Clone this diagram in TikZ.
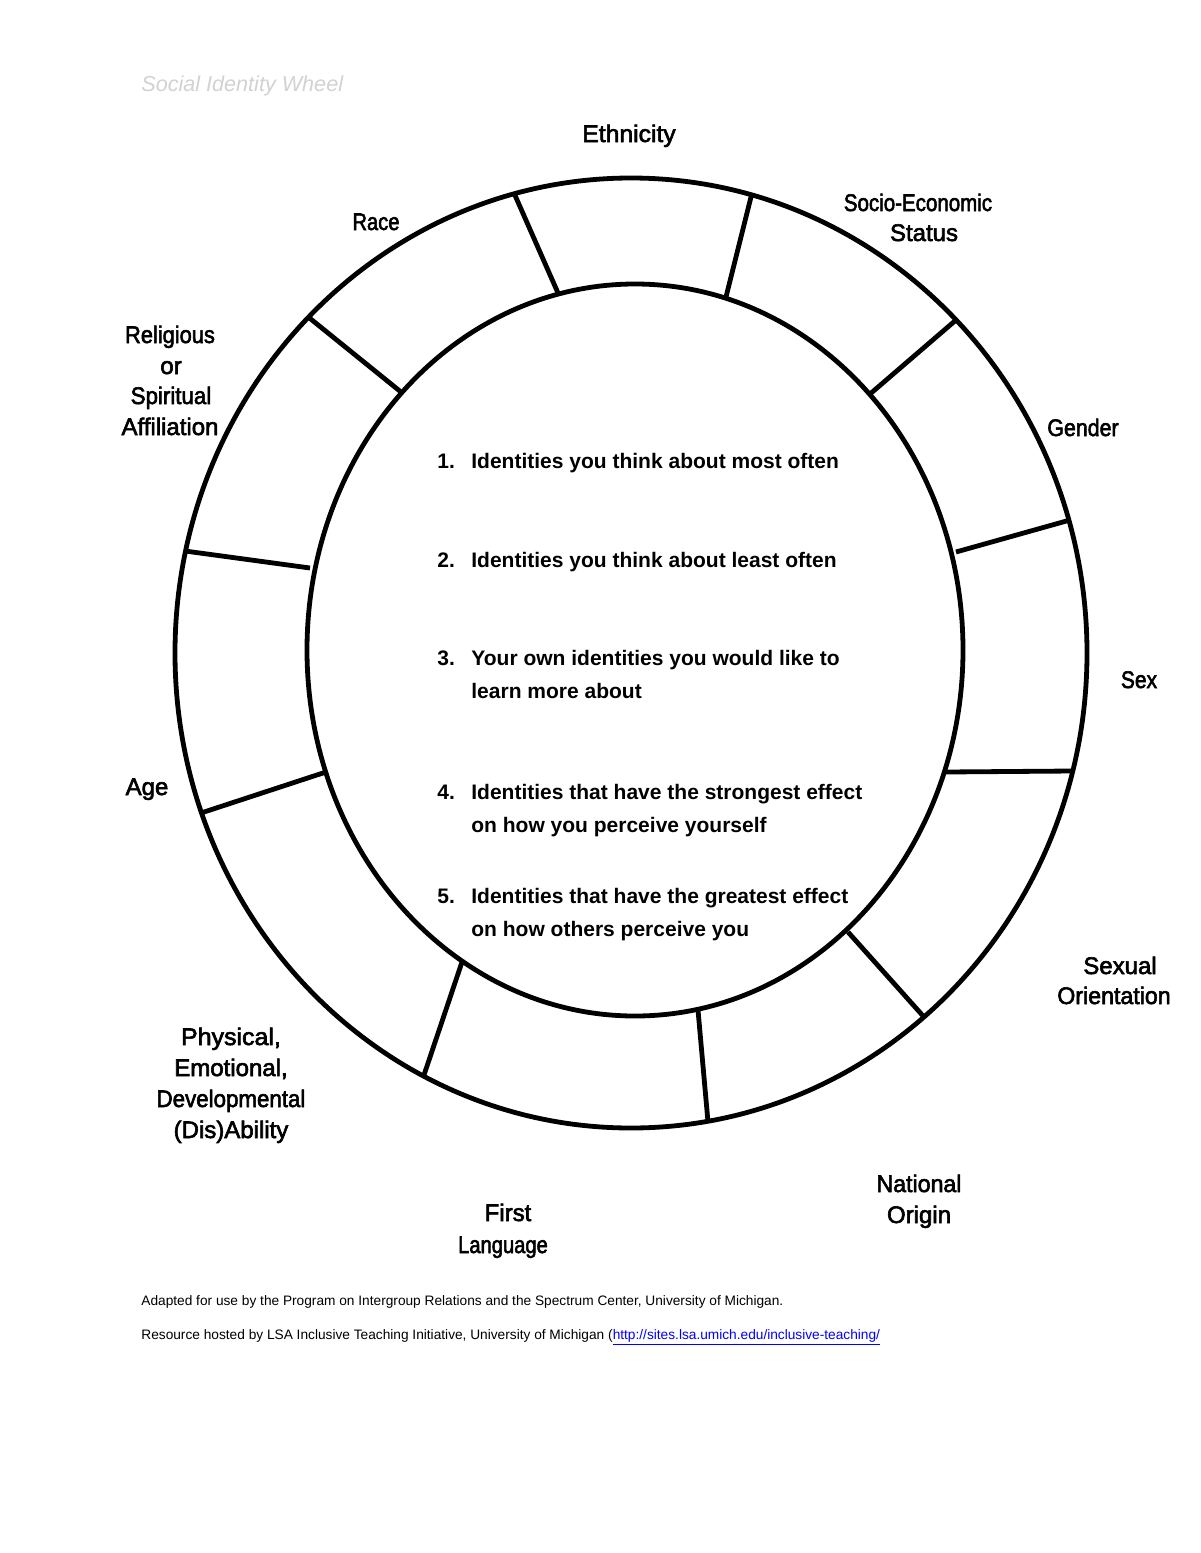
\documentclass[tikz,border=0pt]{standalone}
\usepackage{fontspec}
\setmainfont{Liberation Sans}
\newfontfamily\lblfont{Liberation Sans}[FakeBold=2.5]
\newfontfamily\listfont{Liberation Sans}
\definecolor{linkblue}{RGB}{0,0,255}
\definecolor{titlegray}{RGB}{210,210,210}
\newcommand{\nar}[2]{\scalebox{#1}[1]{#2}}
\begin{document}
\begin{tikzpicture}[x=0.5pt,y=-0.5pt,
  ring/.style={line width=2.4pt},
  divider/.style={line width=2.4pt},
  lbl/.style={anchor=base,inner sep=0pt,font=\lblfont\fontsize{12}{14}\selectfont},
  item/.style={anchor=base west,inner sep=0pt,font=\listfont\bfseries\fontsize{10.5}{12}\selectfont},
  num/.style={anchor=base west,inner sep=0pt,font=\listfont\bfseries\fontsize{10.5}{12}\selectfont},
  foot/.style={anchor=base west,inner sep=0pt,font=\fontsize{6.85}{8}\selectfont}]
\useasboundingbox (0,0) rectangle (1200,1553);
\fill[white] (0,0) rectangle (1200,1553);
% title
\node[anchor=base west,inner sep=0pt,text=titlegray,font=\fontsize{10.8}{13}\selectfont\itshape] (title) at (141,91) {Social Identity Wheel};
% wheel
\draw[ring] (631,653) ellipse [x radius=456, y radius=475];
\draw[ring] (635,650) ellipse [x radius=328, y radius=366];
% dividers
\draw[divider] (514,193) -- (558,293);
\draw[divider] (752,193) -- (726,297);
\draw[divider] (956,320) -- (870,394);
\draw[divider] (1070,520) -- (956,552);
\draw[divider] (1072,771) -- (946,772);
\draw[divider] (924,1017) -- (848,932);
\draw[divider] (708,1122) -- (698,1010);
\draw[divider] (424,1075) -- (462,962);
\draw[divider] (201,813) -- (326,772);
\draw[divider] (185,551) -- (310,568);
\draw[divider] (307,316) -- (401,392);
% labels
\node[lbl] (eth) at (629,142) {\nar{1.03}{Ethnicity}};
\node[lbl] (ses1) at (918,211) {\nar{0.855}{Socio-Economic}};
\node[lbl] (ses2) at (924,241) {Status};
\node[lbl] (race) at (376,230) {\nar{0.84}{Race}};
\node[lbl] (rel1) at (170,343) {\nar{0.91}{Religious}};
\node[lbl] (rel2) at (171,374) {or};
\node[lbl] (rel3) at (171,404) {\nar{0.93}{Spiritual}};
\node[lbl] (rel4) at (170,435) {Affiliation};
\node[lbl] (gen) at (1083,436) {\nar{0.89}{Gender}};
\node[lbl] (sex) at (1139,688) {\nar{0.875}{Sex}};
\node[lbl] (age) at (147,795) {Age};
\node[lbl] (so1) at (1120,974) {Sexual};
\node[lbl] (so2) at (1114,1004) {\nar{0.965}{Orientation}};
\node[lbl] (dis1) at (231,1045) {\nar{1.04}{Physical,}};
\node[lbl] (dis2) at (231,1076) {Emotional,};
\node[lbl] (dis3) at (231,1107) {\nar{0.93}{Developmental}};
\node[lbl] (dis4) at (231,1138) {(Dis)Ability};
\node[lbl] (nat1) at (919,1192) {\nar{0.965}{National}};
\node[lbl] (nat2) at (919,1223) {Origin};
\node[lbl] (fl1) at (508,1221) {First};
\node[lbl] (fl2) at (503,1253) {\nar{0.84}{Language}};
% list
\node[num] (n1) at (437,468) {1.};
\node[item] (i1) at (471,468) {Identities you think about most often};
\node[num] (n2) at (437,567) {2.};
\node[item] (i2) at (471,567) {Identities you think about least often};
\node[num] (n3) at (437,665) {3.};
\node[item] (i3a) at (471,665) {Your own identities you would like to};
\node[item] (i3b) at (471,698) {learn more about};
\node[num] (n4) at (437,799) {4.};
\node[item] (i4a) at (471,799) {Identities that have the strongest effect};
\node[item] (i4b) at (471,832) {on how you perceive yourself};
\node[num] (n5) at (437,903) {5.};
\node[item] (i5a) at (471,903) {Identities that have the greatest effect};
\node[item] (i5b) at (471,936) {on how others perceive you};
% footer
\node[foot] (f1) at (141,1305) {Adapted for use by the Program on Intergroup Relations and the Spectrum Center, University of Michigan.};
\node[foot] (f2) at (141,1339) {Resource hosted by LSA Inclusive Teaching Initiative, University of Michigan (\textcolor{linkblue}{\underline{http://sites.lsa.umich.edu/inclusive-teaching/}}};
\end{tikzpicture}
\end{document}
